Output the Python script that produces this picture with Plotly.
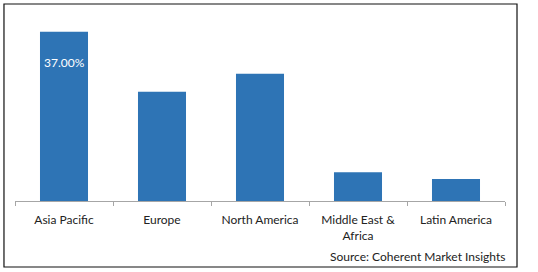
import plotly.graph_objects as go

categories = ["Asia Pacific", "Europe", "North America", "Middle East & Africa", "Latin America"]
tick_labels = ["Asia Pacific", "Europe", "North America", "Middle East &<br>Africa", "Latin America"]
shares = [37.0, 23.9, 27.8, 6.3, 4.8]
label_text = "37.00%"

FONT = "Lato"
BAR = "#2E74B5"

fig = go.Figure()
fig.add_trace(go.Bar(x=categories, y=shares, marker=dict(color=BAR, line=dict(width=0)),
                     hoverinfo="skip"))

fig.add_annotation(x=categories[0], y=shares[0], xref="x", yref="y", text=label_text,
                   showarrow=False, yanchor="middle", yshift=-31,
                   font=dict(family=FONT, size=12, color="white"))

fig.add_annotation(x=1.004, y=-0.306, xref="paper", yref="paper", xanchor="right", yanchor="middle",
                   text="Source: Coherent Market Insights", showarrow=False,
                   font=dict(family=FONT, size=12, color="#222"))

fig.add_shape(type="rect", xref="paper", yref="paper", x0=-0.0225, x1=1.0245, y0=-0.3607, y1=1.0765,
              line=dict(color="#111", width=1.2), fillcolor="rgba(0,0,0,0)")

fig.update_layout(
    width=538, height=272, margin=dict(l=15, r=33, t=18, b=71),
    paper_bgcolor="white", plot_bgcolor="white", bargap=0.51, showlegend=False,
    font=dict(family=FONT, size=12, color="#222"),
    xaxis=dict(tickmode="array", tickvals=categories, ticktext=tick_labels,
               showline=True, linecolor="#A6A6A6", linewidth=1,
               ticks="outside", tickson="boundaries", ticklen=4, tickcolor="#A6A6A6",
               ticklabelstandoff=8,
               showgrid=False, tickfont=dict(family=FONT, size=12, color="#222")),
    yaxis=dict(range=[0, 40], visible=False, showgrid=False, zeroline=False),
)

fig.write_html("out.html")
